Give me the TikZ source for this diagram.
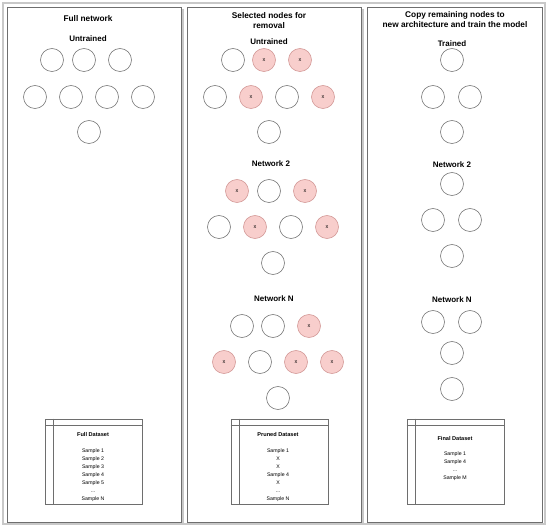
\documentclass[tikz,border=0pt]{standalone}
\usepackage{fontspec}
\setmainfont{Liberation Sans}
\usepackage{xcolor}
\usepackage{tikz}
\usetikzlibrary{positioning}
\definecolor{frame}{HTML}{6E6E6E}
\definecolor{shadow}{HTML}{C8C8C8}
\definecolor{ring}{HTML}{7A7A7A}
\definecolor{cut}{HTML}{F8CECC}
\definecolor{cutline}{HTML}{D49A98}

\begin{document}
\begin{tikzpicture}[
  x=1pt, y=-1pt,
  panel/.style    = {draw=frame, line width=0.7pt},
  neuron/.style   = {circle, draw=ring, line width=0.6pt, minimum size=23pt, inner sep=0pt},
  removed/.style  = {neuron, fill=cut, draw=cutline, font=\fontsize{5.5}{5.5}\selectfont},
  title/.style    = {font=\bfseries\fontsize{8.3}{10}\selectfont, align=center},
  netlbl/.style   = {font=\bfseries\fontsize{8}{9}\selectfont},
  databox/.style  = {draw=frame, line width=0.6pt, minimum width=97pt, minimum height=85pt, inner sep=0pt},
  datahead/.style = {font=\bfseries\fontsize{5.6}{6}\selectfont},
  datalist/.style = {font=\fontsize{5.2}{8}\selectfont, align=center, anchor=north},
]
\useasboundingbox (0,0) rectangle (550,532);
% frame and panels
\draw[shadow, line width=1.5pt] (3,3) rectangle (545,524);
\foreach \xa/\xb in {7/181, 187/361, 367/542.5} {
  \draw[shadow, line width=1.2pt] (\xb+2,9) -- (\xb+2,524) -- (\xa+2,524);
  \draw[panel, fill=white] (\xa,7) rectangle (\xb,522);
}

% panel 1: full network
\node[title] (t1) at (88,19) {Full network};
\node[netlbl] (l1) at (88,39) {Untrained};
\node[neuron] (a1) at (52,60) {};
\node[neuron] (a2) at (84,60) {};
\node[neuron] (a3) at (120,60) {};
\node[neuron] (a4) at (35,97) {};
\node[neuron] (a5) at (71,97) {};
\node[neuron] (a6) at (107,97) {};
\node[neuron] (a7) at (143,97) {};
\node[neuron] (a8) at (89,132) {};

% panel 2: selected nodes
\node[title] (t2) at (269,21) {Selected nodes for\\removal};
\node[netlbl] (l2) at (269,42) {Untrained};
\node[neuron] (b1) at (233,60) {};
\node[removed] (b2) at (264,60) {x};
\node[removed] (b3) at (300,60) {x};
\node[neuron] (b4) at (215,97) {};
\node[removed] (b5) at (251,97) {x};
\node[neuron] (b6) at (287,97) {};
\node[removed] (b7) at (323,97) {x};
\node[neuron] (b8) at (269,132) {};

\node[netlbl] (l3) at (271,164) {Network 2};
\node[removed] (c1) at (237,191) {x};
\node[neuron] (c2) at (269,191) {};
\node[removed] (c3) at (305,191) {x};
\node[neuron] (c4) at (219,227) {};
\node[removed] (c5) at (255,227) {x};
\node[neuron] (c6) at (291,227) {};
\node[removed] (c7) at (327,227) {x};
\node[neuron] (c8) at (273,263) {};

\node[netlbl] (l4) at (274,299) {Network N};
\node[neuron] (d1) at (242,326) {};
\node[neuron] (d2) at (273,326) {};
\node[removed] (d3) at (309,326) {x};
\node[removed] (d4) at (224,362) {x};
\node[neuron] (d5) at (260,362) {};
\node[removed] (d6) at (296,362) {x};
\node[removed] (d7) at (332,362) {x};
\node[neuron] (d8) at (278,398) {};

% panel 3: copied and trained
\node[title] (t3) at (455,20) {Copy remaining nodes to\\new architecture and train the model};
\node[netlbl] (l5) at (452,44) {Trained};
\node[neuron] (e1) at (452,60) {};
\node[neuron] (e2) at (433,97) {};
\node[neuron] (e3) at (470,97) {};
\node[neuron] (e4) at (452,132) {};

\node[netlbl] (l6) at (452,165) {Network 2};
\node[neuron] (f1) at (452,184) {};
\node[neuron] (f2) at (433,220) {};
\node[neuron] (f3) at (470,220) {};
\node[neuron] (f4) at (452,256) {};

\node[netlbl] (l7) at (452,300) {Network N};
\node[neuron] (g1) at (433,322) {};
\node[neuron] (g2) at (470,322) {};
\node[neuron] (g3) at (452,353) {};
\node[neuron] (g4) at (452,389) {};

% datasets
\node[databox] (fulldata) at (94,461.5) {};
\node[databox] (pruneddata) at (279.5,461.5) {};
\node[databox] (finaldata) at (455.5,461.5) {};
\foreach \n in {fulldata, pruneddata, finaldata} {
  \draw[frame, line width=0.6pt] ([yshift=-7pt]\n.north west) -- ([yshift=-7pt]\n.north east);
  \draw[frame, line width=0.6pt] ([xshift=8.5pt]\n.north west) -- ([xshift=8.5pt]\n.south west);
}
\node[datahead] (fullhead) at (93,434) {Full Dataset};
\node[datalist] (fulllist) at (93,445) {Sample 1\\Sample 2\\Sample 3\\Sample 4\\Sample 5\\...\\Sample N};
\node[datahead] (prunedhead) at (278,434) {Pruned Dataset};
\node[datalist] (prunedlist) at (278,445) {Sample 1\\X\\X\\Sample 4\\X\\...\\Sample N};
\node[datahead] (finalhead) at (455,438) {Final Dataset};
\node[datalist] (finallist) at (455,448.5) {Sample 1\\Sample 4\\...\\Sample M};
\end{tikzpicture}
\end{document}
